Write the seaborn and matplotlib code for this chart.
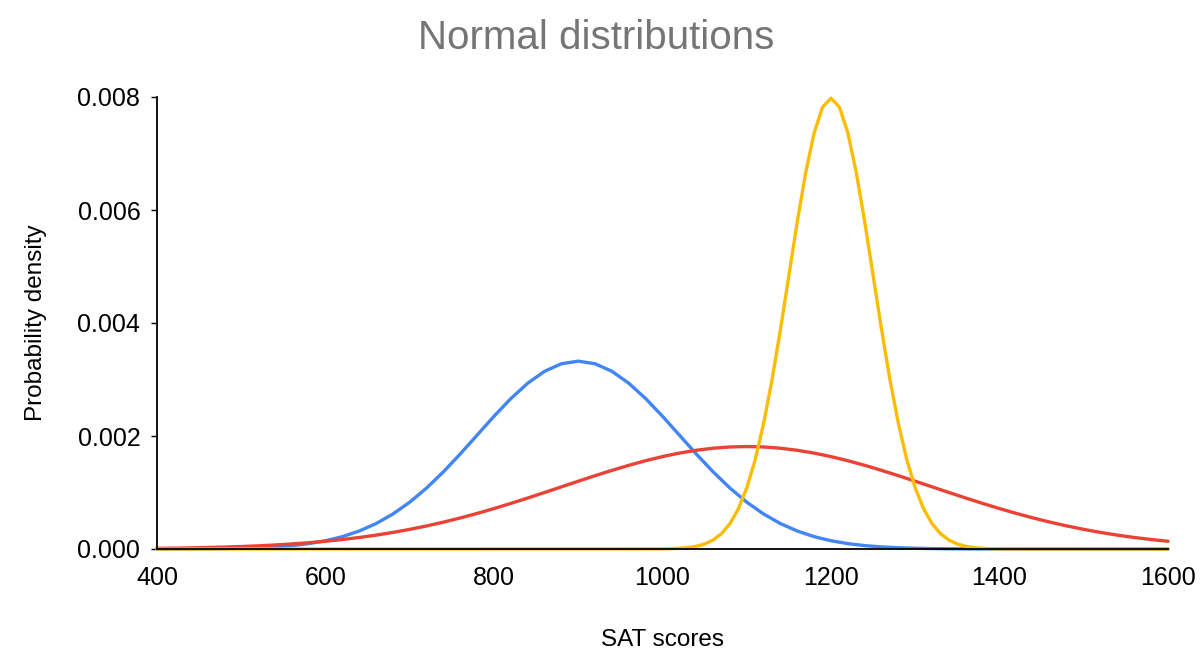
import numpy as np
import pandas as pd
import matplotlib
matplotlib.use("Agg")
import matplotlib.pyplot as plt
import seaborn as sns

# Values
x_wide = [400, 420, 440, 460, 480, 500, 520, 540, 560, 580, 600, 620, 640, 660, 680,
          700, 720, 740, 760, 780, 800, 820, 840, 860, 880, 900, 920, 940, 960, 980,
          1000, 1020, 1040, 1060, 1080, 1100, 1120, 1140, 1160, 1180, 1200, 1220, 1240,
          1260, 1280, 1300, 1320, 1340, 1360, 1380, 1400, 1420, 1440, 1460, 1480, 1500,
          1520, 1540, 1560, 1580, 1600]

blue = [0.00000056, 0.00000111, 0.00000214, 0.0000040, 0.0000073, 0.0000129, 0.0000221,
        0.0000369, 0.0000601, 0.0000950, 0.0001461, 0.0002185, 0.0003180, 0.0004499,
        0.0006193, 0.0008290, 0.0010793, 0.0013667, 0.0016833, 0.0020164, 0.0023494,
        0.0026621, 0.0029339, 0.0031449, 0.0032787, 0.0033245, 0.0032787, 0.0031449,
        0.0029339, 0.0026621, 0.0023494, 0.0020164, 0.0016833, 0.0013667, 0.0010793,
        0.0008290, 0.0006193, 0.0004499, 0.0003180, 0.0002185, 0.0001461, 0.0000950,
        0.0000601, 0.0000369, 0.0000221, 0.0000129, 0.0000073, 0.0000040, 0.00000214,
        0.00000111, 0.00000056, 0.00000028, 0.00000013, 0.00000006, 0.00000002, 0.0,
        0.0, 0.0, 0.0, 0.0, 0.0]

red = [0.0000115, 0.0000153, 0.0000201, 0.0000264, 0.0000342, 0.0000440, 0.0000561,
       0.0000711, 0.0000892, 0.0001110, 0.0001370, 0.0001678, 0.0002038, 0.0002454,
       0.0002932, 0.0003473, 0.0004080, 0.0004754, 0.0005494, 0.0006296, 0.0007157,
       0.0008068, 0.0009020, 0.0010002, 0.0010999, 0.0011996, 0.0012976, 0.0013920,
       0.0014810, 0.0015628, 0.0016354, 0.0016974, 0.0017472, 0.0017837, 0.0018059,
       0.0018134, 0.0018059, 0.0017837, 0.0017472, 0.0016974, 0.0016354, 0.0015628,
       0.0014810, 0.0013920, 0.0012976, 0.0011996, 0.0010999, 0.0010002, 0.0009020,
       0.0008068, 0.0007157, 0.0006296, 0.0005494, 0.0004754, 0.0004080, 0.0003473,
       0.0002932, 0.0002454, 0.0002038, 0.0001678, 0.0001370]

x_narrow = [400, 1000, 1010, 1020, 1030, 1040, 1050, 1060, 1070, 1080, 1090, 1100, 1110,
            1120, 1130, 1140, 1150, 1160, 1170, 1180, 1190, 1200, 1210, 1220, 1230, 1240,
            1250, 1260, 1270, 1280, 1290, 1300, 1310, 1320, 1330, 1340, 1350, 1360, 1370,
            1380, 1390, 1400, 1600]

yellow = [0.0, 0.0000027, 0.0000058, 0.0000122, 0.0000246, 0.0000477, 0.0000886,
          0.0001583, 0.0002717, 0.0004479, 0.0007095, 0.0010798, 0.0015790, 0.0022184,
          0.0029945, 0.0038837, 0.0048394, 0.0057938, 0.0066645, 0.0073654, 0.0078208,
          0.0079788, 0.0078208, 0.0073654, 0.0066645, 0.0057938, 0.0048394, 0.0038837,
          0.0029945, 0.0022184, 0.0015790, 0.0010798, 0.0007095, 0.0004479, 0.0002717,
          0.0001583, 0.0000886, 0.0000477, 0.0000246, 0.0000122, 0.0000058, 0.0000027,
          0.0]

x_ticks = [400, 600, 800, 1000, 1200, 1400, 1600]
y_ticks = [0.000, 0.002, 0.004, 0.006, 0.008]
y_tick_labels = ["0.000", "0.002", "0.004", "0.006", "0.008"]

df = pd.concat([
    pd.DataFrame({"x": x_wide, "y": blue, "series": "blue"}),
    pd.DataFrame({"x": x_wide, "y": red, "series": "red"}),
    pd.DataFrame({"x": x_narrow, "y": yellow, "series": "yellow"}),
], ignore_index=True)

sns.set_theme(style="white")
plt.rcParams["font.family"] = ["Liberation Sans", "DejaVu Sans"]

fig = plt.figure(figsize=(12, 6.55), dpi=100)
ax = fig.add_axes([157 / 1200, 1 - 549 / 655, (1168 - 157) / 1200, (549 - 97) / 655])

palette = {"blue": "#4285F4", "red": "#EA4335", "yellow": "#FBBC04"}
sns.lineplot(data=df, x="x", y="y", hue="series", palette=palette, ax=ax,
             linewidth=2.4, legend=False, estimator=None, sort=True)
for ln in ax.lines:
    ln.set_clip_on(False)
    ln.set_solid_joinstyle("round")

ax.set_xlim(400, 1600)
ax.set_ylim(0, 0.008)
ax.set_xticks(x_ticks)
ax.set_xticklabels([str(t) for t in x_ticks])
ax.set_yticks(y_ticks)
ax.set_yticklabels(y_tick_labels)
ax.tick_params(axis="x", length=0, pad=12, labelsize=18, colors="black")
ax.tick_params(axis="y", length=4, width=1, pad=8, labelsize=18, colors="black", left=True)

for side in ["top", "right"]:
    ax.spines[side].set_visible(False)
for side in ["left", "bottom"]:
    ax.spines[side].set_color("black")
    ax.spines[side].set_linewidth(1.3)

ax.set_xlabel("SAT scores", fontsize=17.5, color="black", labelpad=28)
ax.set_ylabel("Probability density", fontsize=17.5, color="black", labelpad=22)

fig.text(596 / 1200, 1 - 38 / 655, "Normal distributions", ha="center", va="center",
         fontsize=29, color="#757575")

fig.savefig("out.png", dpi=100)
